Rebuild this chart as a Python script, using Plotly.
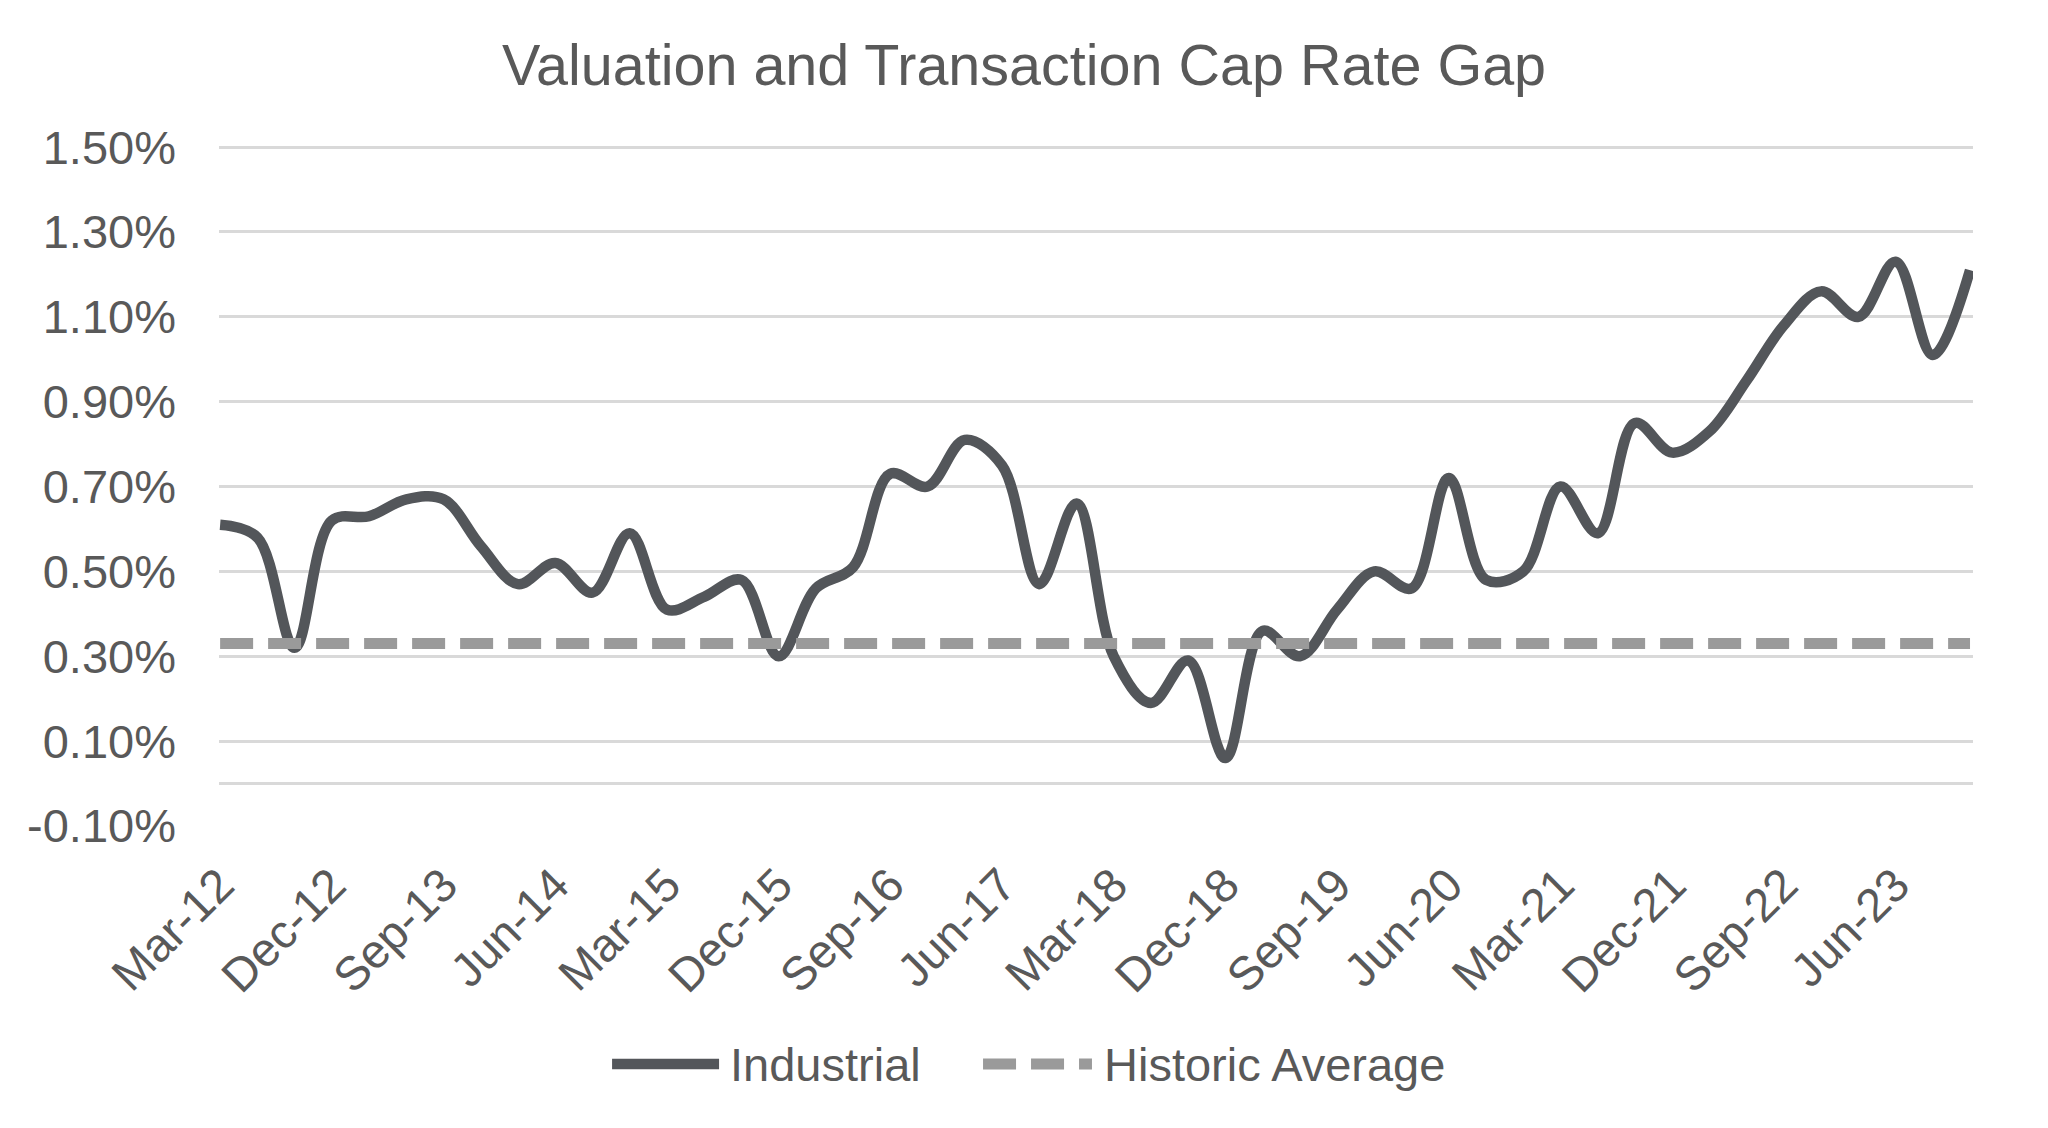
import plotly.graph_objects as go

# Quarterly categories, Mar-12 .. Dec-23
quarters = [f"{m}-{y:02d}" for y in range(12, 24) for m in ("Mar", "Jun", "Sep", "Dec")]

# Industrial valuation vs transaction cap rate gap (%)
industrial = [
    0.61, 0.58, 0.32, 0.62, 0.63, 0.67, 0.67, 0.56,
    0.47, 0.52, 0.45, 0.59, 0.41, 0.44, 0.48, 0.30,
    0.46, 0.51, 0.73, 0.70, 0.81, 0.75, 0.47, 0.66,
    0.30, 0.19, 0.29, 0.06, 0.36, 0.30, 0.41, 0.50,
    0.46, 0.72, 0.48, 0.50, 0.70, 0.59, 0.85, 0.78,
    0.83, 0.95, 1.08, 1.16, 1.10, 1.23, 1.01, 1.21,
]
historic_avg = 0.33

# every third quarter gets a label
tick_labels = quarters[::3]
y_ticks = [-0.1, 0.1, 0.3, 0.5, 0.7, 0.9, 1.1, 1.3, 1.5]
y_tick_text = ["-0.10%", "0.10%", "0.30%", "0.50%", "0.70%", "0.90%", "1.10%", "1.30%", "1.50%"]

FONT = "Liberation Sans, Arial, sans-serif"
TEXT = "#595959"
LINE = "#53565A"
DASH = "#9A9A9A"
GRID = "#D9D9D9"

fig = go.Figure()

fig.add_trace(go.Scatter(
    x=quarters, y=industrial,
    mode="lines", line=dict(color=LINE, width=10.5, shape="spline", smoothing=1),
    name="Industrial", showlegend=False,
))
fig.add_trace(go.Scatter(
    x=[quarters[0], quarters[-1]], y=[historic_avg, historic_avg],
    mode="lines", line=dict(color=DASH, width=11, dash="33px,15px"),
    name="Historic Average", showlegend=False,
))

# hand-made legend with long samples, like the original
leg_y = -0.3495
fig.add_shape(type="line", xref="paper", yref="paper", x0=0.2241, x1=0.2851, y0=leg_y, y1=leg_y,
              line=dict(color=LINE, width=10.5))
fig.add_shape(type="line", xref="paper", yref="paper", x0=0.4356, x1=0.4977, y0=leg_y, y1=leg_y,
              line=dict(color=DASH, width=11, dash="33px,15px"))
fig.add_annotation(text="Industrial", xref="paper", yref="paper", x=0.2902, y=leg_y,
                   xanchor="left", yanchor="middle", showarrow=False,
                   font=dict(family=FONT, size=47, color=TEXT))
fig.add_annotation(text="Historic Average", xref="paper", yref="paper", x=0.5034, y=leg_y,
                   xanchor="left", yanchor="middle", showarrow=False,
                   font=dict(family=FONT, size=47, color=TEXT))

# page body has an 8px margin, so the figure is 16px smaller than the window
fig.update_layout(
    width=2032, height=1112,
    margin=dict(l=211, r=67, t=137, b=294),
    paper_bgcolor="white", plot_bgcolor="white",
    font=dict(family=FONT, size=47, color=TEXT),
    title=dict(text="Valuation and Transaction Cap Rate Gap", x=0.5, xanchor="center",
               y=1 - 57 / 1112, yanchor="middle", yref="container",
               font=dict(family=FONT, size=57.5, color=TEXT)),
    xaxis=dict(
        type="category", range=[-0.03, 47.08],
        tickvals=tick_labels, ticktext=tick_labels, tickangle=-45,
        showgrid=False, showline=False, zeroline=False, ticks="",
        ticklabelstandoff=21,
    ),
    yaxis=dict(
        # a hair above 1.50 so the top gridline is drawn
        range=[-0.1, 1.505], tickvals=y_ticks, ticktext=y_tick_text,
        showgrid=True, gridcolor=GRID, gridwidth=2.5,
        zeroline=True, zerolinecolor=GRID, zerolinewidth=2.5,
        showline=False, ticks="", ticklabelstandoff=42,
    ),
)

fig.write_html("out.html")
